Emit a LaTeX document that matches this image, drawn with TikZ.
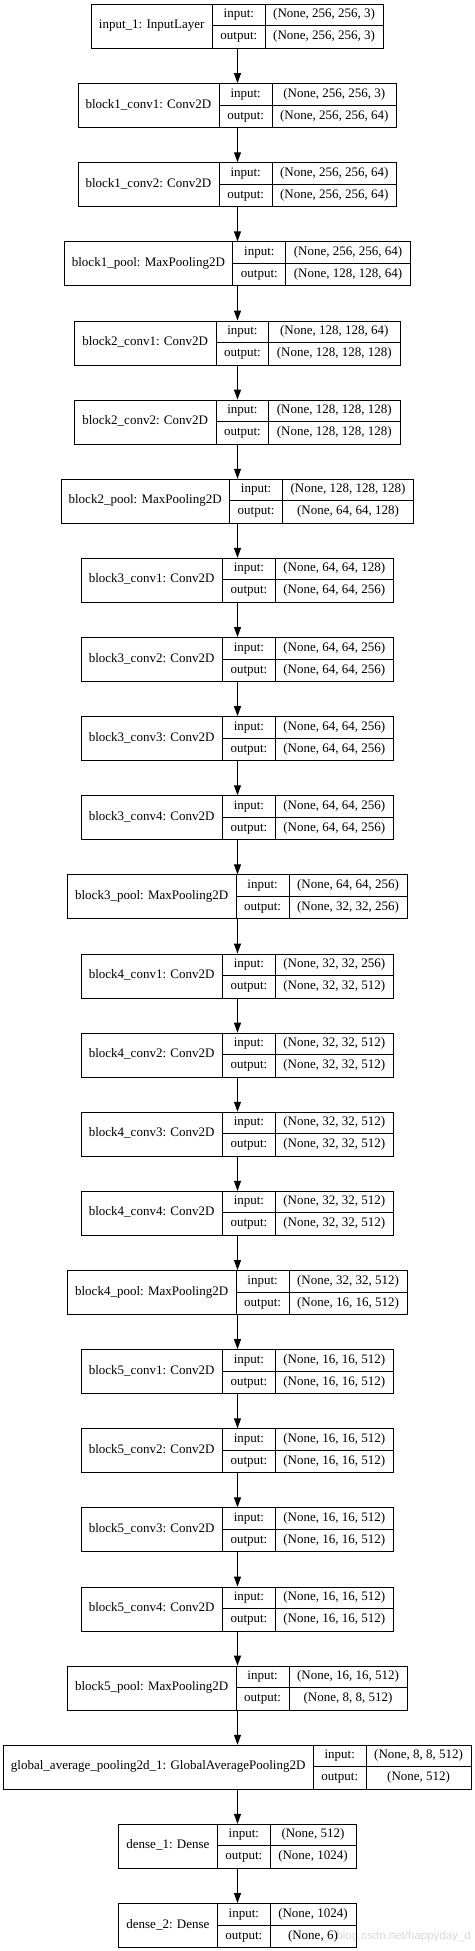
\documentclass[tikz,border=0pt]{standalone}
\usepackage{fontspec}
\setmainfont{Liberation Serif}
\newfontfamily\wmfont{Liberation Sans}
\usetikzlibrary{arrows.meta}
\newcommand\recfont{\fontsize{13pt}{15pt}\selectfont}
\newlength\mwa \newlength\mwb \newlength\mwc \newlength\mwd
\tikzset{
  recbox/.style={draw=black, line width=1pt, inner sep=0pt, anchor=north west},
  cellline/.style={draw=black, line width=1pt},
  rectext/.style={font=\recfont, inner sep=0pt, text height=9pt, text depth=3pt, anchor=center},
  flow/.style={draw=black, line width=1pt, -{Triangle[length=10pt,width=7pt]}},
  watermark/.style={font=\wmfont\fontsize{11.5pt}{13pt}\selectfont, text=gray!30, inner sep=0pt, anchor=east}
}
% store texts and measure cell widths (outside the picture)
% #1 name, #2 label, #3 input shape, #4 output shape
\newcommand\defrec[4]{%
  \expandafter\gdef\csname RL#1\endcsname{#2}%
  \expandafter\gdef\csname RI#1\endcsname{#3}%
  \expandafter\gdef\csname RO#1\endcsname{#4}%
  \settowidth\mwa{\recfont #2}\addtolength\mwa{16pt}%
  \settowidth\mwb{\recfont output:}\addtolength\mwb{16pt}%
  \settowidth\mwc{\recfont #3}\settowidth\mwd{\recfont #4}%
  \ifdim\mwd>\mwc \mwc=\mwd\fi \addtolength\mwc{16pt}%
  \pgfmathsetmacro\tmpv{\mwa}\expandafter\xdef\csname RA#1\endcsname{\tmpv}%
  \pgfmathsetmacro\tmpv{\mwb}\expandafter\xdef\csname RB#1\endcsname{\tmpv}%
  \pgfmathsetmacro\tmpv{\mwc}\expandafter\xdef\csname RC#1\endcsname{\tmpv}%
}
% draw record #1 at row #2
\newcommand\rec[2]{%
  \pgfmathsetmacro\recT{4+79.125*#2}%
  \pgfmathsetmacro\recW{\csname RA#1\endcsname+\csname RB#1\endcsname+\csname RC#1\endcsname}%
  \pgfmathsetmacro\recL{237-\recW/2}%
  \pgfmathsetmacro\recA{\recL+\csname RA#1\endcsname}%
  \pgfmathsetmacro\recB{\recA+\csname RB#1\endcsname}%
  \pgfmathsetmacro\recR{\recL+\recW}%
  \node[recbox, minimum width=\recW pt, minimum height=44pt] (#1) at (\recL,\recT) {};
  \draw[cellline] (\recA,\recT) -- (\recA,\recT+44);
  \draw[cellline] (\recB,\recT) -- (\recB,\recT+44);
  \draw[cellline] (\recA,\recT+22) -- (\recR,\recT+22);
  \node[rectext] (#1-l) at ({(\recL+\recA)/2},\recT+22) {\csname RL#1\endcsname};
  \node[rectext] (#1-ik) at ({(\recA+\recB)/2},\recT+11) {input:};
  \node[rectext] (#1-ok) at ({(\recA+\recB)/2},\recT+33) {output:};
  \node[rectext] (#1-iv) at ({(\recB+\recR)/2},\recT+11) {\csname RI#1\endcsname};
  \node[rectext] (#1-ov) at ({(\recB+\recR)/2},\recT+33) {\csname RO#1\endcsname};
}
\begin{document}%
\defrec{n0}{input\_1: InputLayer}{(None, 256, 256, 3)}{(None, 256, 256, 3)}%
\defrec{n1}{block1\_conv1: Conv2D}{(None, 256, 256, 3)}{(None, 256, 256, 64)}%
\defrec{n2}{block1\_conv2: Conv2D}{(None, 256, 256, 64)}{(None, 256, 256, 64)}%
\defrec{n3}{block1\_pool: MaxPooling2D}{(None, 256, 256, 64)}{(None, 128, 128, 64)}%
\defrec{n4}{block2\_conv1: Conv2D}{(None, 128, 128, 64)}{(None, 128, 128, 128)}%
\defrec{n5}{block2\_conv2: Conv2D}{(None, 128, 128, 128)}{(None, 128, 128, 128)}%
\defrec{n6}{block2\_pool: MaxPooling2D}{(None, 128, 128, 128)}{(None, 64, 64, 128)}%
\defrec{n7}{block3\_conv1: Conv2D}{(None, 64, 64, 128)}{(None, 64, 64, 256)}%
\defrec{n8}{block3\_conv2: Conv2D}{(None, 64, 64, 256)}{(None, 64, 64, 256)}%
\defrec{n9}{block3\_conv3: Conv2D}{(None, 64, 64, 256)}{(None, 64, 64, 256)}%
\defrec{n10}{block3\_conv4: Conv2D}{(None, 64, 64, 256)}{(None, 64, 64, 256)}%
\defrec{n11}{block3\_pool: MaxPooling2D}{(None, 64, 64, 256)}{(None, 32, 32, 256)}%
\defrec{n12}{block4\_conv1: Conv2D}{(None, 32, 32, 256)}{(None, 32, 32, 512)}%
\defrec{n13}{block4\_conv2: Conv2D}{(None, 32, 32, 512)}{(None, 32, 32, 512)}%
\defrec{n14}{block4\_conv3: Conv2D}{(None, 32, 32, 512)}{(None, 32, 32, 512)}%
\defrec{n15}{block4\_conv4: Conv2D}{(None, 32, 32, 512)}{(None, 32, 32, 512)}%
\defrec{n16}{block4\_pool: MaxPooling2D}{(None, 32, 32, 512)}{(None, 16, 16, 512)}%
\defrec{n17}{block5\_conv1: Conv2D}{(None, 16, 16, 512)}{(None, 16, 16, 512)}%
\defrec{n18}{block5\_conv2: Conv2D}{(None, 16, 16, 512)}{(None, 16, 16, 512)}%
\defrec{n19}{block5\_conv3: Conv2D}{(None, 16, 16, 512)}{(None, 16, 16, 512)}%
\defrec{n20}{block5\_conv4: Conv2D}{(None, 16, 16, 512)}{(None, 16, 16, 512)}%
\defrec{n21}{block5\_pool: MaxPooling2D}{(None, 16, 16, 512)}{(None, 8, 8, 512)}%
\defrec{n22}{global\_average\_pooling2d\_1: GlobalAveragePooling2D}{(None, 8, 8, 512)}{(None, 512)}%
\defrec{n23}{dense\_1: Dense}{(None, 512)}{(None, 1024)}%
\defrec{n24}{dense\_2: Dense}{(None, 1024)}{(None, 6)}%
\begin{tikzpicture}[x=1pt,y=-1pt]
\useasboundingbox (0,0) rectangle (474,1951);
\node[watermark] (wm) at (471,1937) {blog.csdn.net/happyday\_d};
\foreach \i in {0,...,24} {\rec{n\i}{\i}}
\foreach \a [evaluate=\a as \b using int(\a+1)] in {0,...,23}
  \draw[flow] (n\a.south) -- (n\b.north);
\end{tikzpicture}%
\end{document}
